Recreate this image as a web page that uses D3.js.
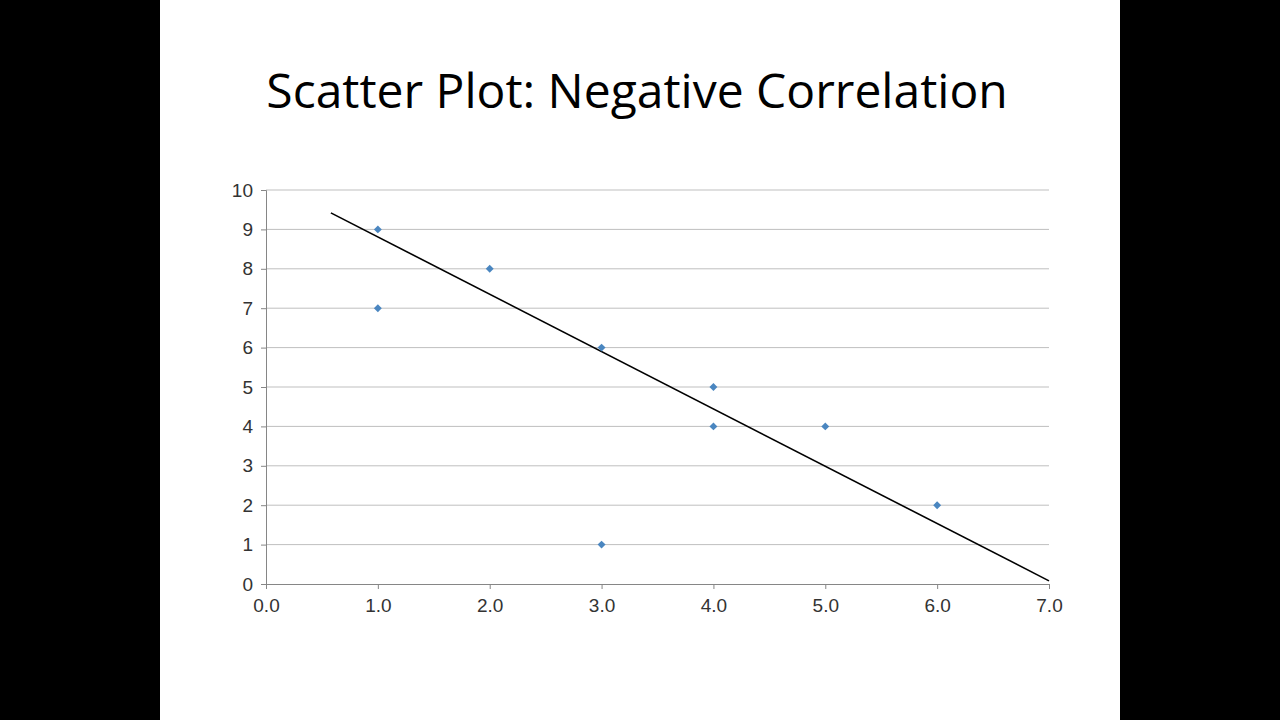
<!DOCTYPE html>
<html><head><meta charset="utf-8">
<script src="https://cdn.jsdelivr.net/npm/d3@7"></script>
<style>body{margin:0;background:#000}</style></head>
<body><svg id="c" width="1280" height="720"></svg>
<script>
const xVals=[1,1,2,3,3,4,4,5,6];
const yVals=[9,7,8,6,1,5,4,4,2];
const trendX=[0.58,7];
const trendY=[9.42,0.08];
const xTicks=[0,1,2,3,4,5,6,7];
const yTicks=[0,1,2,3,4,5,6,7,8,9,10];
const title="Scatter Plot: Negative Correlation";

const svg=d3.select("#c");
svg.append("rect").attr("x",160).attr("y",0).attr("width",960).attr("height",720).attr("fill","#fff");
svg.append("text").attr("x",637).attr("y",108).attr("text-anchor","middle")
  .attr("font-family","Open Sans, Liberation Sans, sans-serif").attr("font-size",48).attr("fill","#000").text(title);
const x=d3.scaleLinear().domain([0,7]).range([266,1049]);
const y=d3.scaleLinear().domain([0,10]).range([584,190]);
const f="Liberation Sans, Arial, sans-serif";
svg.append("g").selectAll("line").data(yTicks.filter(d=>d>0)).join("line")
  .attr("x1",x(0)).attr("x2",x(7)).attr("y1",d=>y(d)).attr("y2",d=>y(d)).attr("stroke","#bfbfbf");
const ya=svg.append("g").attr("transform",`translate(${x(0)},0)`).call(d3.axisLeft(y).tickValues(yTicks).tickSize(5).tickPadding(8));
const xa=svg.append("g").attr("transform",`translate(0,${y(0)})`).call(d3.axisBottom(x).tickValues(xTicks).tickSize(5).tickPadding(10));
[ya,xa].forEach(a=>{a.selectAll("path,line").attr("stroke","#868686");a.selectAll("text").attr("font-family",f).attr("font-size",19).attr("fill","#333");});
svg.append("line").attr("x1",x(trendX[0])).attr("y1",y(trendY[0])).attr("x2",x(trendX[1])).attr("y2",y(trendY[1])).attr("stroke","#000").attr("stroke-width",1.6);
svg.append("g").selectAll("path").data(xVals.map((v,i)=>[v,yVals[i]])).join("path")
  .attr("d",d3.symbol(d3.symbolDiamond2,40)).attr("transform",d=>`translate(${x(d[0])},${y(d[1])})`).attr("fill","#4a86c0");
</script></body></html>
